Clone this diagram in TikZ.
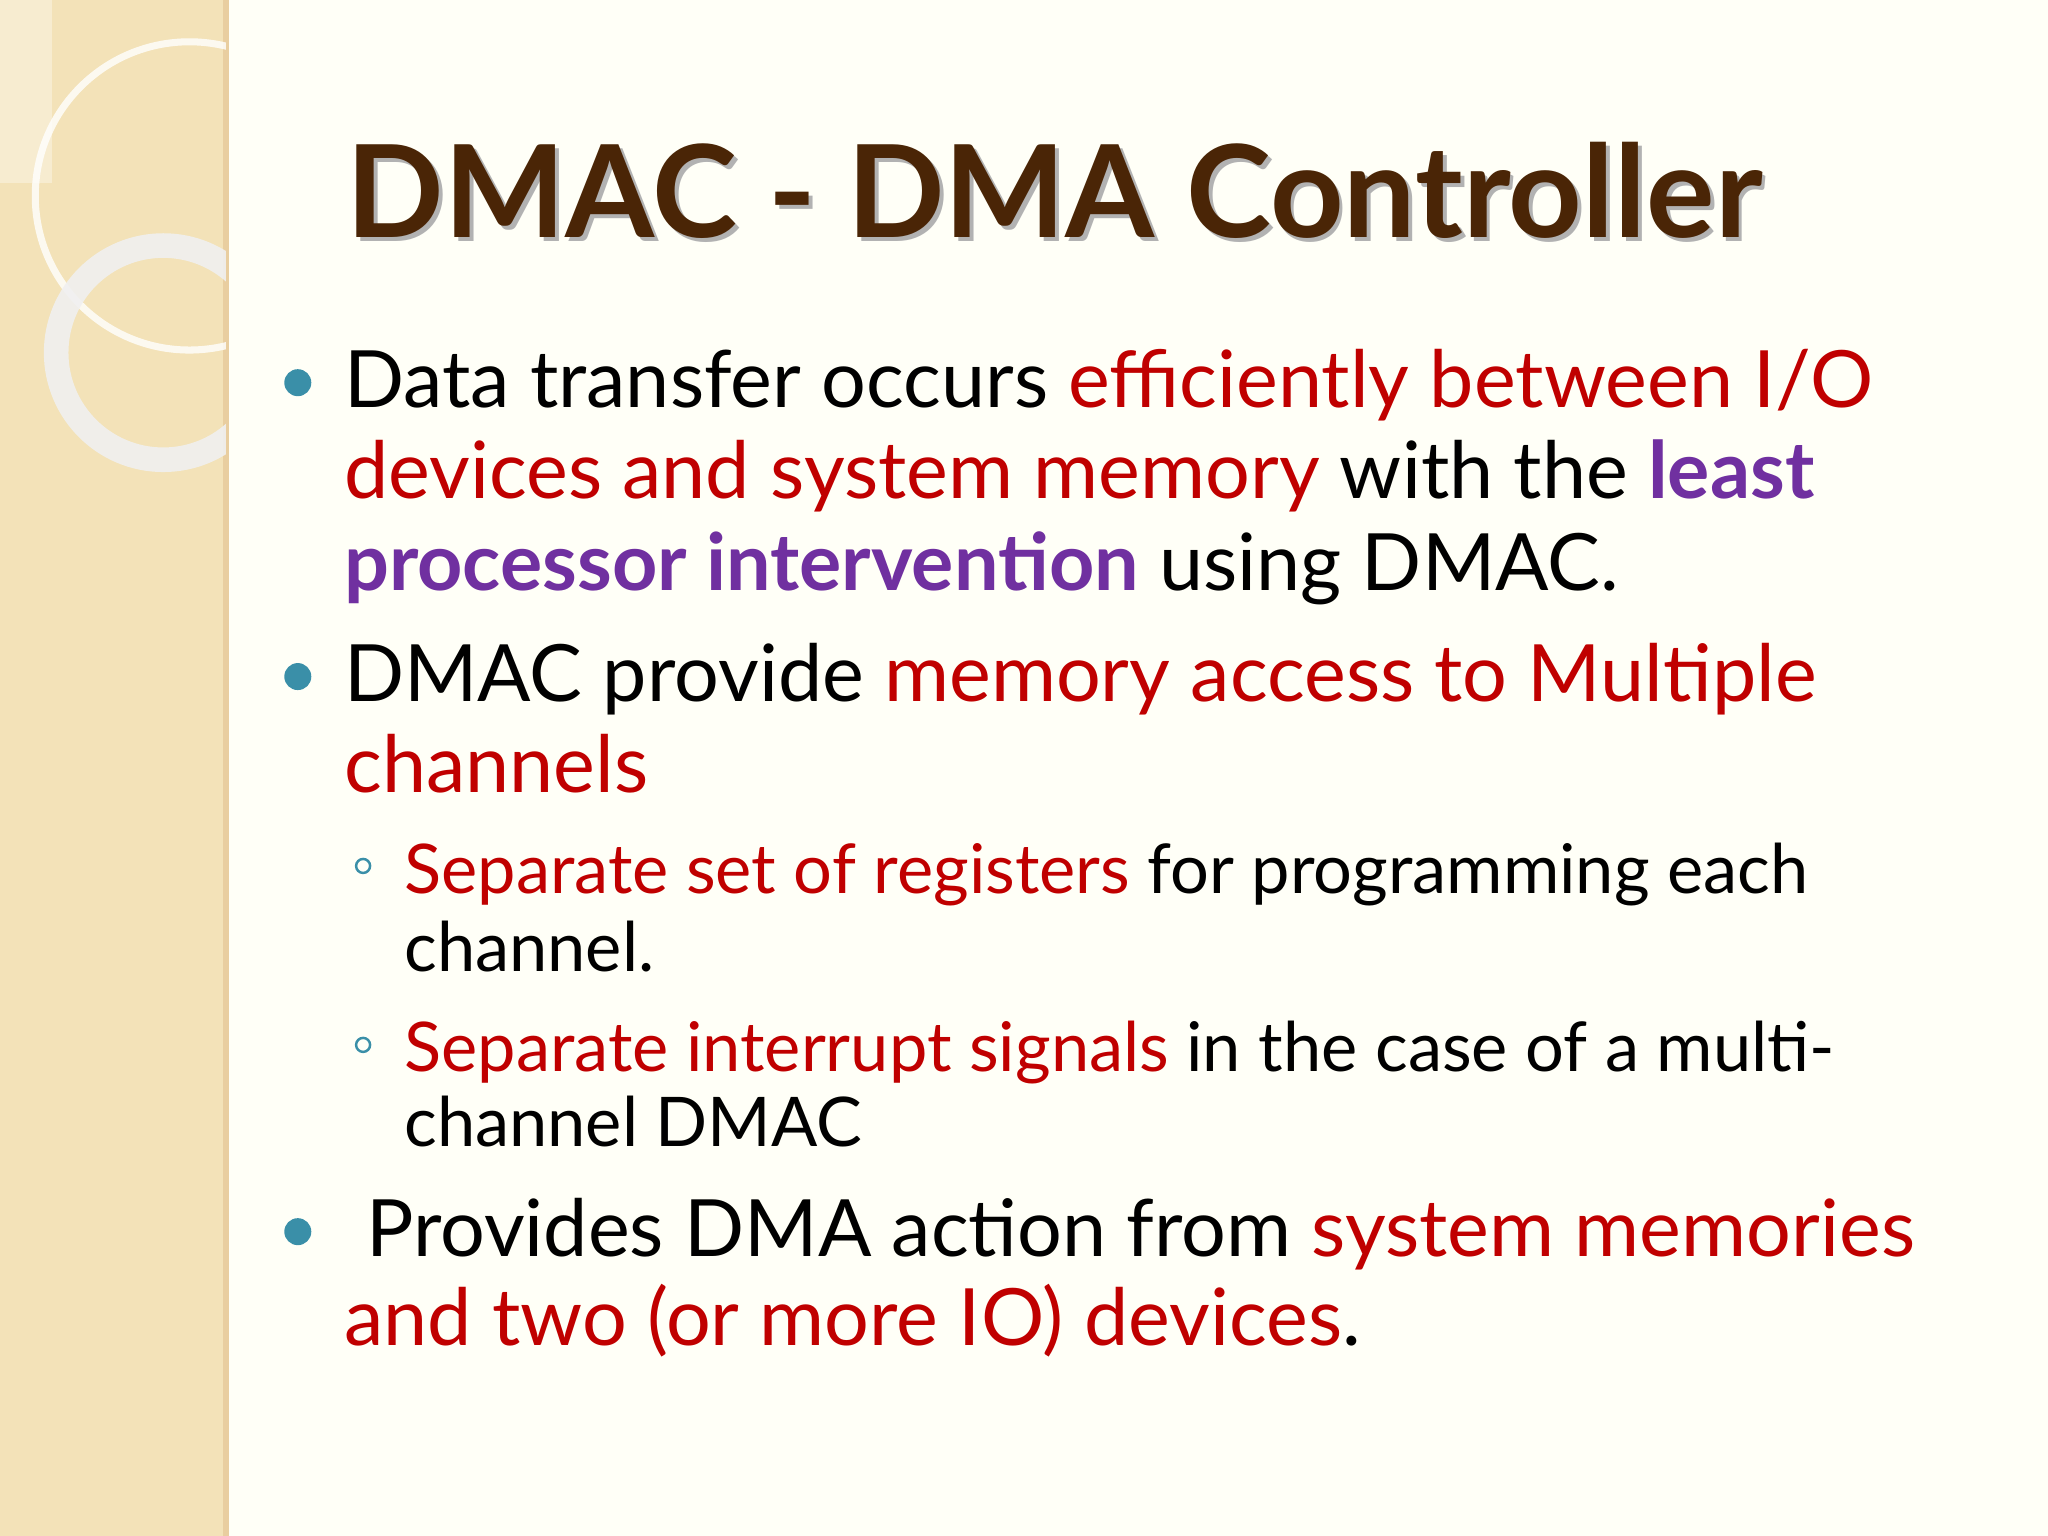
\documentclass[tikz,border=0pt]{standalone}
\usepackage{fontspec}
\setmainfont{Lato}
\definecolor{rd}{HTML}{C00000}
\definecolor{pu}{HTML}{7030A0}
\definecolor{br}{HTML}{4A2506}
\definecolor{tl}{HTML}{3A8FA8}
\definecolor{strip}{HTML}{F3E2B8}
\begin{document}
\begin{tikzpicture}[x=0.01306cm,y=-0.01306cm,
  ln/.style={anchor=base west,inner sep=0pt,font=\fontsize{22.5}{26}\selectfont},
  sl/.style={anchor=base west,inner sep=0pt,font=\fontsize{19.5}{23}\selectfont},
  bul/.style={circle,fill=tl,minimum size=0.27cm,inner sep=0pt},
  sbul/.style={circle,draw=tl,line width=0.7pt,minimum size=0.14cm,inner sep=0pt}]
\useasboundingbox (0,0) rectangle (1568,1176);
\fill[white!97!yellow] (0,0) rectangle (1568,1176);
\fill[strip] (0,0) rectangle (173,1176);
\draw[strip!80!brown,line width=1.5pt] (173,0) -- (173,1176);
\begin{scope}
\clip (0,0) rectangle (173,1176);
\fill[white,opacity=0.35] (0,0) rectangle (40,140);
\draw[white,line width=2pt,opacity=0.8] (145,150) circle (118);
\draw[gray!12,line width=7pt,opacity=0.9] (125,270) circle (82);
\end{scope}
\node[anchor=base west,inner sep=0pt,font=\fontsize{36.5}{40}\selectfont\bfseries,text=gray!60] (ts) at (268,185) {DMAC - DMA Controller};
\node[anchor=base west,inner sep=0pt,font=\fontsize{36.5}{40}\selectfont\bfseries,text=br] (t) at (265,182) {DMAC - DMA Controller};
\node[bul] (b1) at (228,293) {};
\node[bul] (b2) at (228,518) {};
\node[bul] (b3) at (228,943) {};
\node[sbul] (s1) at (278,663) {};
\node[sbul] (s2) at (278,800) {};
\node[ln] (l1) at (263,312) {Data transfer occurs \textcolor{rd}{efficiently between I/O}};
\node[ln] (l2) at (263,382) {\textcolor{rd}{devices and system memory} with the \textcolor{pu}{\bfseries least}};
\node[ln] (l3) at (263,452) {\textcolor{pu}{\bfseries processor intervention} using DMAC.};
\node[ln] (l4) at (263,537) {DMAC provide \textcolor{rd}{memory access to Multiple}};
\node[ln] (l5) at (263,607) {\textcolor{rd}{channels}};
\node[sl] (m1) at (309,684) {\textcolor{rd}{Separate set of registers} for programming each};
\node[sl] (m2) at (309,744) {channel.};
\node[sl] (m3) at (309,820) {\textcolor{rd}{Separate interrupt signals} in the case of a multi-};
\node[sl] (m4) at (309,878) {channel DMAC};
\node[ln] (l6) at (280,962) {Provides DMA action from \textcolor{rd}{system memories}};
\node[ln] (l7) at (263,1030) {\textcolor{rd}{and two (or more IO) devices}.};
\end{tikzpicture}
\end{document}
